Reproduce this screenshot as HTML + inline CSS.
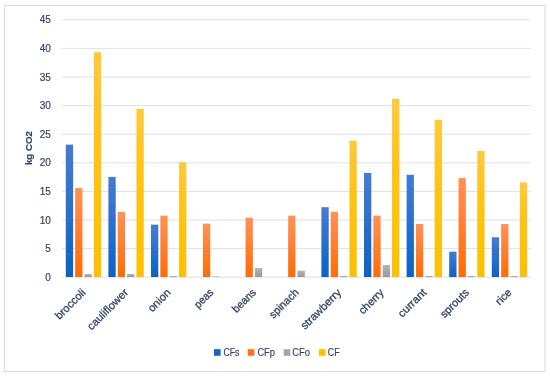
<!DOCTYPE html>
<html><head><meta charset="utf-8"><title>chart</title>
<style>
html,body{margin:0;padding:0;background:#fff;}
svg{display:block;}
text{font-family:"Liberation Sans",sans-serif;fill:#2f4564;stroke:#2f4564;stroke-width:0.3px;}
</style></head><body>
<svg width="550" height="377" viewBox="0 0 550 377">
<defs>
<linearGradient id="gb" x1="0" y1="0" x2="0" y2="1"><stop offset="0" stop-color="#457cd1"/><stop offset="0.5" stop-color="#2a6fcc"/><stop offset="1" stop-color="#0a62c6"/></linearGradient>
<linearGradient id="go" x1="0" y1="0" x2="0" y2="1"><stop offset="0" stop-color="#ff9256"/><stop offset="0.5" stop-color="#ff7f30"/><stop offset="1" stop-color="#ff6c04"/></linearGradient>
<linearGradient id="gg" x1="0" y1="0" x2="0" y2="1"><stop offset="0" stop-color="#b4b4b4"/><stop offset="1" stop-color="#9a9a9a"/></linearGradient>
<linearGradient id="gy" x1="0" y1="0" x2="0" y2="1"><stop offset="0" stop-color="#ffc93e"/><stop offset="0.4" stop-color="#ffc316"/><stop offset="1" stop-color="#ffc000"/></linearGradient>
</defs>
<rect x="0" y="0" width="550" height="377" fill="#ffffff"/>
<rect x="4.3" y="5.35" width="540.7" height="366.05" fill="#ffffff" stroke="#d6dbe4" stroke-width="1.05"/>

<line x1="62.0" y1="19.80" x2="531.0" y2="19.80" stroke="#dbe0ea" stroke-width="1"/>
<text x="50.8" y="23.40" font-size="10" text-anchor="end" style="stroke-width:0.18px">45</text>
<line x1="62.0" y1="48.40" x2="531.0" y2="48.40" stroke="#dbe0ea" stroke-width="1"/>
<text x="50.8" y="52.00" font-size="10" text-anchor="end" style="stroke-width:0.18px">40</text>
<line x1="62.0" y1="77.00" x2="531.0" y2="77.00" stroke="#dbe0ea" stroke-width="1"/>
<text x="50.8" y="80.60" font-size="10" text-anchor="end" style="stroke-width:0.18px">35</text>
<line x1="62.0" y1="105.60" x2="531.0" y2="105.60" stroke="#dbe0ea" stroke-width="1"/>
<text x="50.8" y="109.20" font-size="10" text-anchor="end" style="stroke-width:0.18px">30</text>
<line x1="62.0" y1="134.20" x2="531.0" y2="134.20" stroke="#dbe0ea" stroke-width="1"/>
<text x="50.8" y="137.80" font-size="10" text-anchor="end" style="stroke-width:0.18px">25</text>
<line x1="62.0" y1="162.80" x2="531.0" y2="162.80" stroke="#dbe0ea" stroke-width="1"/>
<text x="50.8" y="166.40" font-size="10" text-anchor="end" style="stroke-width:0.18px">20</text>
<line x1="62.0" y1="191.40" x2="531.0" y2="191.40" stroke="#dbe0ea" stroke-width="1"/>
<text x="50.8" y="195.00" font-size="10" text-anchor="end" style="stroke-width:0.18px">15</text>
<line x1="62.0" y1="220.00" x2="531.0" y2="220.00" stroke="#dbe0ea" stroke-width="1"/>
<text x="50.8" y="223.60" font-size="10" text-anchor="end" style="stroke-width:0.18px">10</text>
<line x1="62.0" y1="248.60" x2="531.0" y2="248.60" stroke="#dbe0ea" stroke-width="1"/>
<text x="50.8" y="252.20" font-size="10" text-anchor="end" style="stroke-width:0.18px">5</text>
<line x1="62.0" y1="277.20" x2="531.0" y2="277.20" stroke="#d9dee6" stroke-width="1"/>
<text x="50.8" y="280.80" font-size="10" text-anchor="end" style="stroke-width:0.18px">0</text>
<rect x="65.80" y="144.64" width="7.30" height="132.36" fill="url(#gb)"/>
<rect x="75.15" y="188.05" width="7.30" height="88.95" fill="url(#go)"/>
<rect x="84.50" y="273.97" width="7.30" height="3.03" fill="url(#gg)"/>
<rect x="93.85" y="52.20" width="7.30" height="224.80" fill="url(#gy)"/>
<rect x="108.40" y="176.90" width="7.30" height="100.10" fill="url(#gb)"/>
<rect x="117.75" y="211.79" width="7.30" height="65.21" fill="url(#go)"/>
<rect x="127.10" y="273.97" width="7.30" height="3.03" fill="url(#gg)"/>
<rect x="136.45" y="108.83" width="7.30" height="168.17" fill="url(#gy)"/>
<rect x="151.00" y="224.66" width="7.30" height="52.34" fill="url(#gb)"/>
<rect x="160.35" y="215.68" width="7.30" height="61.32" fill="url(#go)"/>
<rect x="169.70" y="276.03" width="7.30" height="0.97" fill="url(#gg)"/>
<rect x="179.05" y="162.20" width="7.30" height="114.80" fill="url(#gy)"/>
<rect x="202.95" y="223.63" width="7.30" height="53.37" fill="url(#go)"/>
<rect x="212.30" y="276.43" width="7.30" height="0.57" fill="url(#gg)"/>
<rect x="245.55" y="217.74" width="7.30" height="59.26" fill="url(#go)"/>
<rect x="254.90" y="268.08" width="7.30" height="8.92" fill="url(#gg)"/>
<rect x="288.15" y="215.62" width="7.30" height="61.38" fill="url(#go)"/>
<rect x="297.50" y="270.71" width="7.30" height="6.29" fill="url(#gg)"/>
<rect x="321.40" y="207.22" width="7.30" height="69.78" fill="url(#gb)"/>
<rect x="330.75" y="211.79" width="7.30" height="65.21" fill="url(#go)"/>
<rect x="340.10" y="276.03" width="7.30" height="0.97" fill="url(#gg)"/>
<rect x="349.45" y="140.86" width="7.30" height="136.14" fill="url(#gy)"/>
<rect x="364.00" y="172.90" width="7.30" height="104.10" fill="url(#gb)"/>
<rect x="373.35" y="215.62" width="7.30" height="61.38" fill="url(#go)"/>
<rect x="382.70" y="264.99" width="7.30" height="12.01" fill="url(#gg)"/>
<rect x="392.05" y="98.88" width="7.30" height="178.12" fill="url(#gy)"/>
<rect x="406.60" y="174.78" width="7.30" height="102.22" fill="url(#gb)"/>
<rect x="415.95" y="223.98" width="7.30" height="53.02" fill="url(#go)"/>
<rect x="425.30" y="276.03" width="7.30" height="0.97" fill="url(#gg)"/>
<rect x="434.65" y="119.87" width="7.30" height="157.13" fill="url(#gy)"/>
<rect x="449.20" y="251.66" width="7.30" height="25.34" fill="url(#gb)"/>
<rect x="458.55" y="178.10" width="7.30" height="98.90" fill="url(#go)"/>
<rect x="467.90" y="276.03" width="7.30" height="0.97" fill="url(#gg)"/>
<rect x="477.25" y="150.87" width="7.30" height="126.13" fill="url(#gy)"/>
<rect x="491.80" y="237.30" width="7.30" height="39.70" fill="url(#gb)"/>
<rect x="501.15" y="223.98" width="7.30" height="53.02" fill="url(#go)"/>
<rect x="510.50" y="276.03" width="7.30" height="0.97" fill="url(#gg)"/>
<rect x="519.85" y="182.39" width="7.30" height="94.61" fill="url(#gy)"/>
<text font-size="11" text-anchor="end" textLength="38.0" lengthAdjust="spacingAndGlyphs" transform="translate(86.30,293.20) rotate(-45)">broccoli</text>
<text font-size="11" text-anchor="end" textLength="53.0" lengthAdjust="spacingAndGlyphs" transform="translate(128.90,293.20) rotate(-45)">cauliflower</text>
<text font-size="11" text-anchor="end" textLength="27.4" lengthAdjust="spacingAndGlyphs" transform="translate(171.50,293.20) rotate(-45)">onion</text>
<text font-size="11" text-anchor="end" textLength="22.2" lengthAdjust="spacingAndGlyphs" transform="translate(214.10,293.20) rotate(-45)">peas</text>
<text font-size="11" text-anchor="end" textLength="28.4" lengthAdjust="spacingAndGlyphs" transform="translate(256.70,293.20) rotate(-45)">beans</text>
<text font-size="11" text-anchor="end" textLength="36.4" lengthAdjust="spacingAndGlyphs" transform="translate(299.30,293.20) rotate(-45)">spinach</text>
<text font-size="11" text-anchor="end" textLength="52.2" lengthAdjust="spacingAndGlyphs" transform="translate(341.90,293.20) rotate(-45)">strawberry</text>
<text font-size="11" text-anchor="end" textLength="30.5" lengthAdjust="spacingAndGlyphs" transform="translate(384.50,293.20) rotate(-45)">cherry</text>
<text font-size="11" text-anchor="end" textLength="35.1" lengthAdjust="spacingAndGlyphs" transform="translate(427.10,293.20) rotate(-45)">currant</text>
<text font-size="11" text-anchor="end" textLength="35.8" lengthAdjust="spacingAndGlyphs" transform="translate(469.70,293.20) rotate(-45)">sprouts</text>
<text font-size="11" text-anchor="end" textLength="17.6" lengthAdjust="spacingAndGlyphs" transform="translate(512.30,293.20) rotate(-45)">rice</text>
<text font-size="9.7" font-weight="bold" text-anchor="middle" style="stroke-width:0.15px" transform="translate(31.6,148.1) rotate(-90)">kg CO2</text>
<rect x="214.0" y="349.2" width="6.6" height="6.6" fill="#0f65c8"/>
<text x="223.4" y="355.7" font-size="10" textLength="16.0" lengthAdjust="spacingAndGlyphs" style="stroke-width:0.15px">CFs</text>
<rect x="247.8" y="349.2" width="6.6" height="6.6" fill="#ff7414"/>
<text x="257.4" y="355.7" font-size="10" textLength="17.5" lengthAdjust="spacingAndGlyphs" style="stroke-width:0.15px">CFp</text>
<rect x="283.7" y="349.2" width="6.6" height="6.6" fill="#a5a5a5"/>
<text x="292.3" y="355.7" font-size="10" textLength="17.8" lengthAdjust="spacingAndGlyphs" style="stroke-width:0.15px">CFo</text>
<rect x="319.0" y="349.2" width="6.6" height="6.6" fill="#ffc000"/>
<text x="327.8" y="355.7" font-size="10" textLength="11.8" lengthAdjust="spacingAndGlyphs" style="stroke-width:0.15px">CF</text>
</svg>
</body></html>
